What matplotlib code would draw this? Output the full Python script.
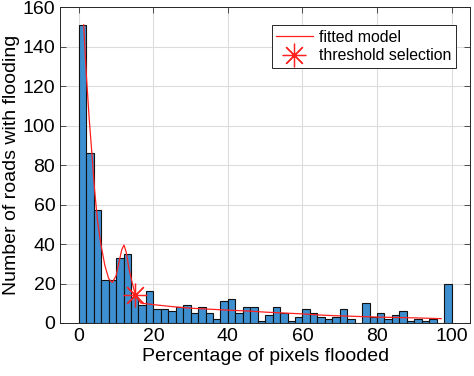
import numpy as np
import matplotlib
matplotlib.use("Agg")
import matplotlib.pyplot as plt

plt.rcParams["font.family"] = ["Liberation Sans", "DejaVu Sans"]

# histogram counts, bins of width 2 from 0 to 100
bin_edges = list(range(0, 101, 2))
counts = [151, 86, 57, 22, 22, 33, 35, 13, 9, 16,
          7, 7, 6, 8, 9, 5, 8, 5, 2, 11,
          12, 5, 8, 8, 1, 4, 8, 5, 1, 3,
          7, 5, 3, 2, 3, 7, 2, 0, 10, 3,
          5, 2, 4, 6, 1, 2, 1, 2, 0, 20]

# fitted model curve
fit_x = [1.3, 2.0, 2.8, 3.5, 4.2, 5.0, 5.9, 7.0, 8.0, 9.0, 10.0, 10.8, 11.5,
         12.1, 12.7, 13.4, 14.3, 15.2, 16.6, 20, 25, 30, 40, 45, 50, 60,
         65, 70, 80, 90, 97.2]
fit_y = [151, 126, 103, 86, 68, 52, 40, 29, 22.5, 20.5, 24, 31, 37,
         39.5, 36, 28, 20.5, 14, 10.1, 9.3, 8.3, 7.5, 6.5, 6.1, 5.5, 4.6,
         4.0, 3.6, 3.0, 2.6, 2.2]

# threshold selection point
thr_x = [15.2]
thr_y = [14]

fig = plt.figure(figsize=(4.74, 3.76), dpi=100)
ax = fig.add_axes([0.127, 0.141, 0.865, 0.840])

ax.bar(bin_edges[:-1], counts, width=2, align="edge",
       color="#3d8fd0", edgecolor="#111111", linewidth=0.8, zorder=2)
ax.plot(fit_x, fit_y, color="#ff2020", lw=0.9, zorder=3, label="fitted model")
ax.plot(thr_x, thr_y, linestyle="none", marker=(8, 2, 0), markersize=17,
        markeredgewidth=0.9, color="#ff2020", zorder=4,
        label="threshold selection")

ax.set_xlim(-5, 105)
ax.set_ylim(0, 160)
ax.set_xticks(range(0, 101, 20))
ax.set_yticks(range(0, 161, 20))
ax.grid(True, color="#dcdcdc", lw=0.8, zorder=0)
ax.set_axisbelow(True)
ax.tick_params(direction="in", top=True, right=True, labelsize=14,
               length=4, color="#333333", width=0.6)
for s in ax.spines.values():
    s.set_color("#262626")
    s.set_linewidth(0.7)

ax.set_xlabel("Percentage of pixels flooded", fontsize=14, labelpad=2)
ax.set_ylabel("Number of roads with flooding", fontsize=14, labelpad=2)

leg = ax.legend(loc="upper right", fontsize=11.4, frameon=True, fancybox=False,
                edgecolor="#262626", framealpha=1, borderpad=0.3,
                handlelength=2.3, handletextpad=0.4, labelspacing=0.2,
                bbox_to_anchor=(0.985, 0.968))
leg.get_frame().set_linewidth(0.7)

fig.savefig("out.png", dpi=100)
